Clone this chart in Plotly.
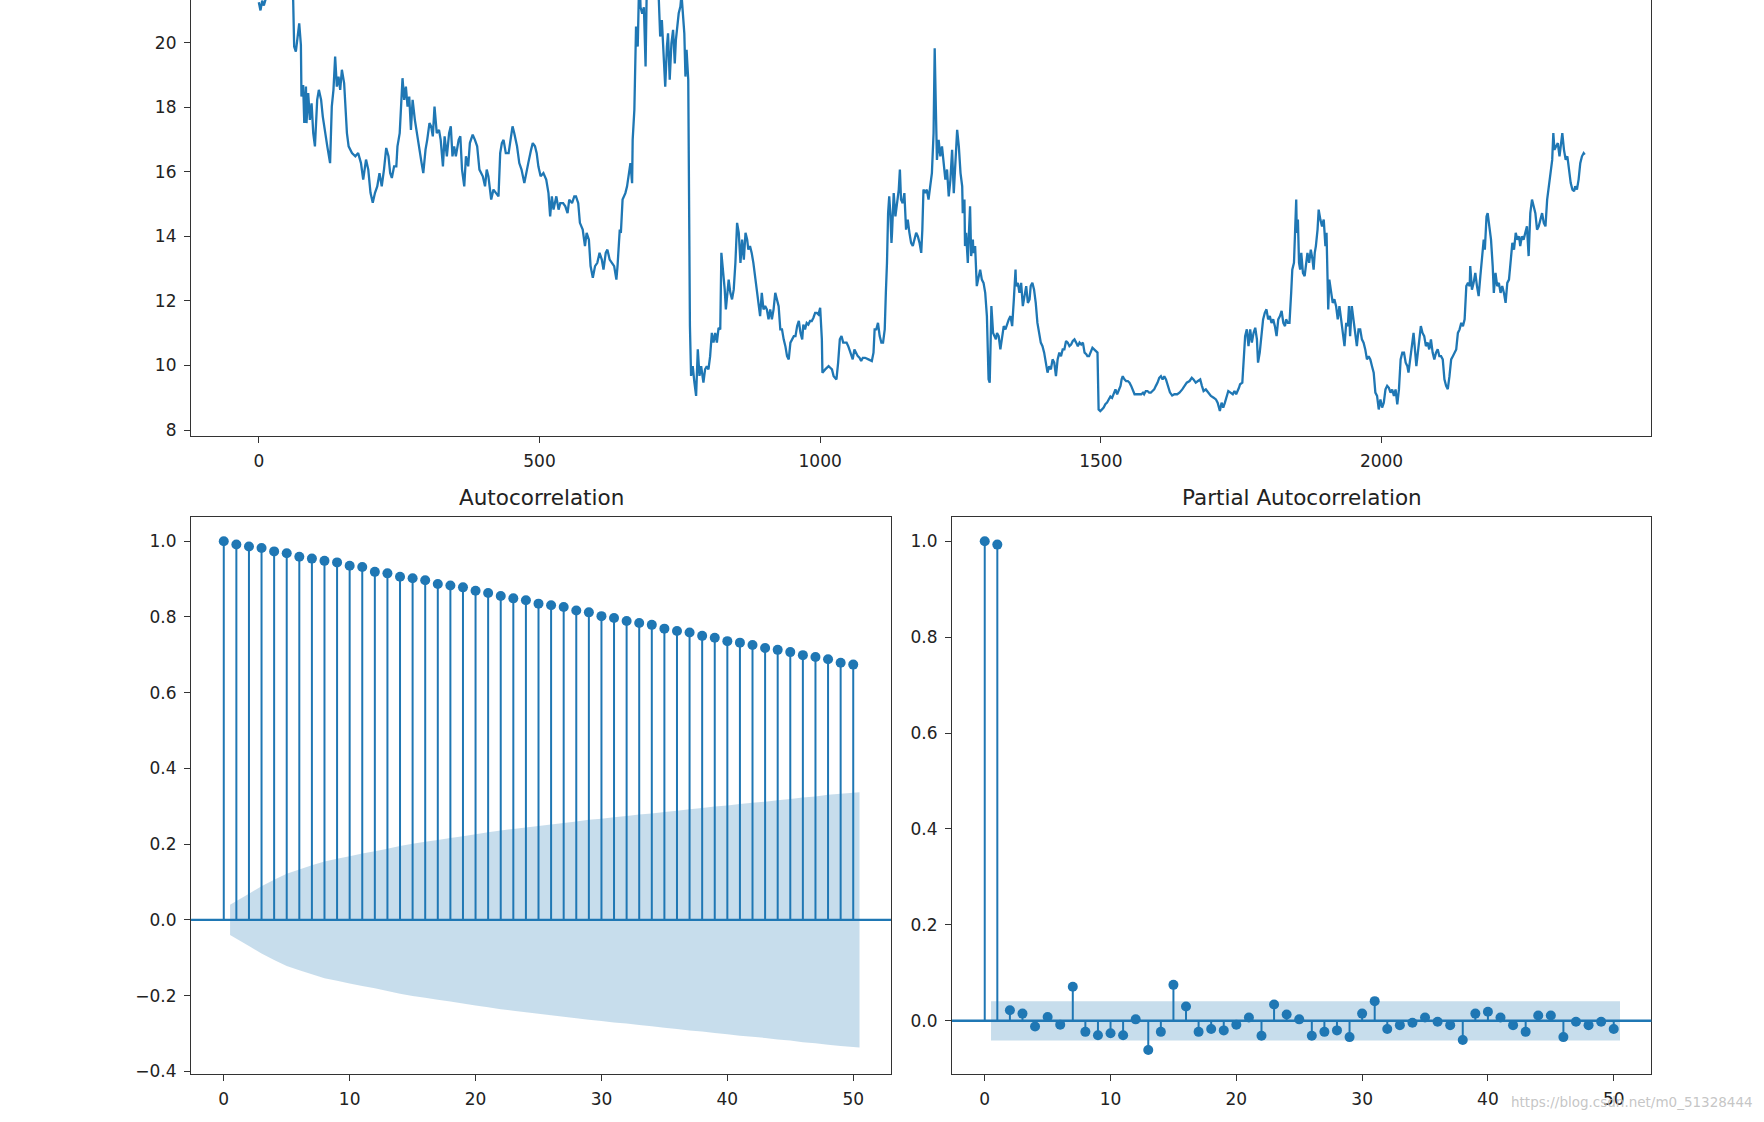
import plotly.graph_objects as go

# ---------------- data ----------------
series_x = [0, 3, 6, 9, 13, 20, 30, 40, 50, 58, 61, 63, 66, 69, 72, 75, 76, 79, 81, 84, 85, 88, 91, 94, 97, 100,
            104, 107, 111, 114, 118, 122, 127, 130, 133, 136, 139, 142, 145, 148, 152, 154, 157, 160, 166, 172, 177,
            182, 186, 191, 195, 199, 203, 207, 211, 215, 219, 223, 227, 231, 234, 237, 241, 245, 247, 251, 253, 256,
            259, 262, 265, 268, 271, 274, 278, 283, 287, 290, 293, 297, 300, 304, 307, 310, 313, 317, 321, 324, 328,
            331, 335, 339, 342, 345, 348, 351, 356, 359, 362, 366, 369, 373, 376, 381, 385, 389, 393,
            399, 403, 406, 409, 414, 418, 423, 427, 430, 433, 436, 440, 445, 448, 452, 455, 460, 464, 468, 473, 476,
            480, 485, 488, 492, 495, 498, 502, 507, 512, 516, 519, 522, 525, 530, 534, 537, 542, 546, 550, 553, 558,
            562, 565, 569, 572, 577, 581, 584, 588, 591, 595, 599, 603, 607, 611, 614, 618, 621, 625, 629, 633, 637,
            639, 643, 645, 648, 653, 656, 659, 662, 665, 666, 669, 670, 672, 675, 676, 678, 680, 683, 686, 689, 691,
            695, 700, 706, 712, 715, 718, 721, 724, 727, 729, 732, 735, 738, 741, 743, 746, 748, 751, 753, 755, 758,
            760, 762, 765, 767, 768, 770, 773, 776, 779, 782, 785, 788,
            792, 795, 798, 801, 804, 807, 810, 813, 816, 819, 822, 824, 826, 828, 830, 832, 835, 837, 840, 843, 846,
            849, 852, 855, 858, 861, 864, 867, 870, 872, 875, 878, 881, 884, 887, 890, 893, 896, 899, 902, 905, 908,
            911, 914, 917, 920, 923, 926, 929, 932, 935, 938, 941, 944, 947, 950, 953, 956, 959, 962, 965, 968, 970,
            973, 976, 979, 982, 985, 988, 991, 994, 997, 1000, 1003, 1004, 1009, 1012, 1015, 1018, 1021, 1024, 1029,
            1032, 1035, 1038, 1041, 1044, 1047, 1050, 1052, 1055, 1058, 1061, 1064, 1067, 1070, 1073, 1076, 1080,
            1086, 1092, 1095, 1097, 1100, 1103, 1106, 1109, 1112, 1115, 1117, 1119, 1121, 1123, 1125, 1127, 1128,
            1131, 1134, 1137, 1140, 1142, 1144, 1147, 1150, 1153, 1156, 1159, 1162, 1165, 1168, 1171, 1174, 1177,
            1180, 1182, 1184, 1187, 1190, 1193, 1196, 1199, 1202, 1204, 1206, 1208,
            1211, 1214, 1217, 1220, 1223, 1226, 1229, 1232, 1235, 1238, 1241, 1244, 1247, 1250, 1253, 1254, 1257,
            1258, 1260, 1263, 1265, 1267, 1269, 1272, 1273, 1276, 1279, 1282, 1285, 1288, 1291, 1294, 1297, 1300,
            1302, 1304, 1305, 1308, 1310, 1313, 1315, 1318, 1321, 1324, 1327, 1330, 1333, 1336, 1339, 1342, 1345,
            1348, 1349, 1352, 1355, 1358, 1361, 1364, 1367, 1370, 1373, 1375, 1378, 1381, 1384, 1387, 1390, 1393,
            1396, 1399, 1402, 1405, 1408, 1411, 1414, 1417, 1420, 1423, 1426, 1429, 1432, 1435, 1438, 1441, 1444,
            1447, 1450, 1453, 1456, 1459, 1462, 1465, 1468, 1471, 1474, 1476, 1479, 1482, 1485, 1488, 1491, 1494,
            1496, 1499, 1502, 1505, 1508, 1511, 1514, 1517, 1520, 1523, 1526, 1529, 1532, 1535, 1537, 1539, 1542,
            1545, 1548, 1551, 1554, 1557, 1560, 1563, 1566, 1569, 1572, 1575, 1577, 1580, 1583, 1586, 1589, 1592,
            1595, 1598, 1601, 1604, 1607, 1610, 1613, 1616, 1619,
            1623, 1627, 1631, 1636, 1640, 1645, 1649, 1653, 1658, 1662, 1665, 1669, 1673, 1677, 1680, 1683, 1687,
            1692, 1696, 1701, 1705, 1708, 1712, 1715, 1718, 1721, 1724, 1727, 1731, 1735, 1738, 1741, 1746, 1748,
            1752, 1754, 1757, 1760, 1763, 1766, 1769, 1772, 1775, 1778, 1780, 1783, 1786, 1789, 1792, 1795, 1798,
            1801, 1804, 1807, 1810, 1813, 1816, 1819, 1822, 1825, 1828, 1830, 1833, 1836, 1839, 1841, 1844, 1846,
            1848, 1849, 1851, 1853, 1855, 1857, 1860, 1863, 1866, 1868, 1871, 1874, 1877, 1879, 1881, 1883, 1886,
            1888, 1891, 1894, 1897, 1900, 1902, 1905, 1907, 1910, 1913, 1916, 1919, 1922, 1925, 1928, 1931, 1934,
            1937, 1940, 1942, 1944, 1947, 1950, 1953, 1956, 1959, 1962, 1965, 1968, 1971, 1974, 1977, 1980, 1983,
            1986, 1989, 1992, 1995, 1998, 2001, 2004, 2007, 2010, 2013, 2016, 2019, 2022, 2025, 2028, 2031,
            2034, 2037, 2040, 2043, 2046, 2048, 2051, 2054, 2057, 2059, 2062, 2064, 2067, 2070, 2073, 2076, 2079,
            2082, 2085, 2088, 2091, 2094, 2097, 2100, 2103, 2106, 2109, 2112, 2115, 2118, 2121, 2124, 2127, 2130,
            2133, 2136, 2139, 2142, 2145, 2148, 2151, 2154, 2157, 2158, 2161, 2164, 2167, 2170, 2173, 2176, 2179,
            2182, 2184, 2187, 2189, 2192, 2195, 2198, 2200, 2203, 2206, 2209, 2212, 2215, 2218, 2221, 2224, 2227,
            2230, 2233, 2236, 2239, 2242, 2245, 2247, 2250, 2253, 2256, 2259, 2262, 2265, 2268, 2271, 2274, 2277,
            2280, 2283, 2286, 2289, 2292, 2295, 2298, 2301, 2304, 2306, 2308, 2311, 2314, 2317, 2320, 2322, 2325,
            2328, 2331, 2334, 2337, 2340, 2343, 2345, 2348, 2351, 2354, 2357, 2360, 2362]

series_y = [21.25, 21.0, 21.3, 21.15, 21.4, 21.9, 22.4, 22.1, 22.6, 22.2, 21.5, 19.88, 19.72, 20.19, 20.6, 19.93,
            18.33, 18.69, 17.51, 18.64, 17.51, 18.44, 17.61, 18.12, 17.2, 16.79,
            18.23, 18.54, 18.23, 17.71, 17.2, 16.79, 16.27, 18.02, 18.54, 19.57, 18.64, 18.95, 18.54, 19.16, 18.75,
            18.23, 17.2, 16.79, 16.58, 16.48, 16.58,
            16.27, 15.76, 16.38, 16.07, 15.35, 15.04, 15.35, 15.55, 15.96, 15.55, 16.07, 16.74, 16.48, 15.96, 15.81,
            16.17, 16.17, 16.79, 17.2, 17.92, 18.9,
            18.23, 18.64, 18.02, 18.33, 17.3, 18.23, 17.61, 16.99, 16.48, 16.27, 15.96, 16.69, 16.99, 17.51, 17.41,
            17.1, 18.02, 17.2, 17.3, 16.99, 16.17,
            17.1, 16.48, 17.2, 17.41, 16.48, 16.79, 16.48, 16.99, 17.1, 16.07, 15.55, 16.48, 16.17, 16.89, 17.15,
            16.99, 16.79, 16.07,
            15.86, 15.55, 16.07, 15.86, 15.14, 15.45, 15.34, 15.24, 16.58, 16.89, 16.99, 16.58, 16.58, 16.99, 17.41,
            17.2, 16.79, 16.27, 16.07, 15.65, 15.96,
            16.27, 16.68, 16.89, 16.79, 16.58, 16.17, 15.86, 15.96, 15.76, 15.34, 14.62, 15.24, 14.83, 15.24, 14.83,
            15.03, 15.03, 14.93, 14.72, 15.14, 15.03,
            15.24, 15.24, 15.03, 14.42, 14.21, 13.7, 14.11, 13.9, 13.08, 12.72, 13.08, 13.18, 13.49, 13.28, 12.97,
            13.49, 13.59, 13.28, 13.18, 13.08, 12.66,
            13.08, 14.21, 14.11, 15.14, 15.34, 15.55, 15.96, 16.27, 15.65, 16.99, 17.92, 19.47, 20.5, 19.88, 21.6,
            22.3, 21.1, 20.9, 21.1, 19.26, 21.6,
            22.5, 22.9, 22.4, 21.6, 20.19, 20.7, 19.47, 18.64, 19.88, 20.29, 18.85, 19.98, 20.4, 19.36, 20.09, 20.5,
            20.91, 21.12, 21.5, 21.01, 20.29,
            18.95, 19.78, 18.85, 14.1, 11.22, 9.68, 9.98, 9.47, 9.06, 10.5, 9.68, 9.98,
            9.47, 9.88, 9.98, 9.88, 10.29, 11.01, 10.71, 11.01, 10.71, 11.17, 11.12, 13.49, 13.08, 12.87, 12.35,
            11.74, 12.25, 12.66, 12.25, 12.05, 12.35,
            13.18, 14.42, 14.11, 13.18, 13.9, 13.28, 14.11, 13.9, 13.59, 13.7, 13.49, 13.18, 12.77, 12.35, 11.84,
            11.53, 12.25, 11.74, 11.84, 11.74, 11.43,
            11.74, 11.43, 11.74, 12.25, 12.05, 11.84, 11.12, 11.12, 10.81, 10.6, 10.29, 10.19, 10.71, 10.81, 10.91,
            10.91, 11.22, 11.38, 11.01, 10.81, 11.27,
            11.12, 11.32, 11.27, 11.38, 11.38, 11.48, 11.63, 11.63, 11.58, 11.79, 10.81, 9.78, 9.88, 9.93, 9.98,
            9.93, 9.88, 9.67, 9.57,
            10.09, 10.81, 10.91, 10.71, 10.71, 10.71, 10.6, 10.5, 10.29, 10.19, 10.5, 10.4, 10.29, 10.24, 10.14,
            10.24, 10.24,
            10.19, 10.14, 10.4, 11.12, 11.12, 11.32, 10.91, 10.71, 10.71, 11.12, 12.25, 13.18, 14.72, 15.24, 14.72,
            13.8, 14.11,
            15.34, 14.62, 15.03, 15.45, 16.07, 15.14, 15.03, 15.34, 14.21, 14.52, 14.11, 13.8, 13.7, 13.9, 14.11,
            14.0, 13.8,
            13.49, 14.21, 15.45, 15.34, 15.45, 15.14, 15.55, 15.96, 17.2, 19.83, 18.02, 16.37,
            16.99, 16.48, 16.79, 16.17, 15.76, 16.07, 15.24, 15.76, 16.68, 15.34, 16.17, 17.3, 16.79, 15.96, 15.55,
            14.72, 15.14,
            13.7, 14.11, 13.18, 14.11, 14.93, 13.39, 13.9, 13.49, 13.7, 12.46, 12.77, 12.97, 12.66, 12.56, 12.25,
            11.53, 9.57,
            9.47, 11.01, 11.84, 11.01, 10.91, 10.81, 11.01, 10.91, 10.5, 10.81, 11.22, 11.12, 11.32, 11.43, 11.53,
            11.22, 12.05,
            12.97, 12.46, 12.56, 12.25, 12.56, 11.84, 12.15, 12.46, 11.94, 12.05, 12.46, 12.56, 12.35, 11.94, 11.32,
            11.01, 10.71,
            10.6, 10.4, 10.09, 9.78, 9.98, 9.88, 10.19, 10.09, 9.67, 10.19, 10.4, 10.29, 10.5, 10.5, 10.76, 10.71,
            10.6,
            10.65, 10.76, 10.81, 10.71, 10.6, 10.71, 10.65, 10.71, 10.4, 10.35, 10.29, 10.29, 10.45, 10.55, 10.5,
            10.45, 10.4,
            8.64, 8.59, 8.64, 8.7, 8.8, 8.85, 8.95, 9.04, 9.0, 9.11, 9.26, 9.11, 9.26, 9.37, 9.57, 9.67, 9.57,
            9.52, 9.52, 9.47, 9.37, 9.21, 9.11, 9.11, 9.11, 9.11, 9.11, 9.16, 9.11, 9.21, 9.21, 9.16, 9.16, 9.21,
            9.26, 9.37, 9.47, 9.62, 9.67, 9.57, 9.67, 9.57, 9.37,
            9.17, 9.07, 9.11, 9.11, 9.16, 9.26, 9.37, 9.47, 9.52, 9.62, 9.57, 9.47, 9.52, 9.57, 9.37, 9.21, 9.26,
            9.16, 9.06, 9.0, 8.95, 8.85, 8.59, 8.85, 8.7, 8.85, 9.06, 9.21, 9.16, 9.11, 9.21, 9.11, 9.31, 9.42,
            9.47, 10.19, 10.91, 11.12, 10.6, 11.12, 10.71, 11.01, 11.17, 10.81, 10.09, 10.4, 11.01, 11.43, 11.63,
            11.74, 11.43,
            11.53, 11.32, 11.43, 11.22, 10.91, 11.43, 11.53, 11.69, 11.32, 11.22, 11.43, 11.32, 11.32, 12.25, 12.97,
            13.18, 14.11,
            15.14, 14.11, 14.52, 13.18, 12.97, 13.49, 12.87, 12.77, 13.28, 13.49, 13.18, 13.59, 13.28, 12.97, 13.49,
            13.7, 14.21,
            14.83, 14.52, 14.31, 14.52, 13.7, 14.11, 11.74, 12.66, 12.25, 11.94, 12.05, 11.84, 11.43, 11.84, 11.43,
            11.01, 10.6,
            11.32, 11.22, 11.84, 10.91, 11.84, 11.43, 11.01, 10.6, 11.12, 11.12, 10.81, 10.71, 10.5, 10.19, 10.29,
            10.19, 9.98,
            9.78, 9.16, 9.06, 8.64, 8.95, 8.7, 8.85, 9.26, 9.37, 9.31, 9.16, 9.26, 9.06, 9.26, 8.8, 9.26,
            10.19, 10.4, 10.4, 10.09, 9.98, 9.78, 10.19, 10.71, 11.01, 10.6, 9.98, 10.29, 10.71, 11.22, 11.01, 10.91,
            10.6,
            10.71, 10.5, 10.81, 10.4, 10.19, 10.4, 10.5, 10.29, 10.29, 10.19, 9.57, 9.37, 9.27, 9.67, 10.19, 10.29,
            10.4,
            10.5, 11.01, 11.12, 11.32, 11.22, 11.43, 12.46, 12.56, 12.46, 13.08, 12.35, 12.56, 12.87, 12.46, 12.15,
            12.77, 13.49,
            13.9, 13.59, 14.62, 14.72, 14.21, 13.9, 13.08, 12.25, 12.87, 12.46, 12.56, 12.25, 12.46, 12.25, 11.94,
            12.56, 12.66,
            13.39, 13.8, 13.59, 14.11, 13.9, 14.0, 13.7, 14.0, 13.9, 14.11, 14.31, 13.39, 14.72, 15.14, 14.93, 14.72,
            14.21,
            14.31, 14.52, 14.72, 14.42, 14.31, 15.14, 15.55, 15.96, 16.37, 17.2, 16.68, 16.79, 16.89, 16.48, 16.99,
            17.2, 16.68,
            16.37, 16.48, 15.96, 15.65, 15.45, 15.4, 15.55, 15.45, 15.76, 16.27, 16.48, 16.58, 16.53]

lags = list(range(51))
acf_vals = [1.000, 0.991, 0.986, 0.982, 0.973, 0.968, 0.959, 0.954, 0.948, 0.944, 0.935, 0.932, 0.919, 0.915,
            0.906, 0.902, 0.897, 0.887, 0.883, 0.878, 0.869, 0.863, 0.855, 0.849, 0.844, 0.835, 0.831, 0.826,
            0.817, 0.812, 0.802, 0.797, 0.789, 0.784, 0.779, 0.769, 0.763, 0.759, 0.750, 0.745, 0.736, 0.732,
            0.726, 0.718, 0.713, 0.707, 0.699, 0.694, 0.688, 0.679, 0.674]
# confidence half-width for lags 1..50
acf_conf = [0.040, 0.069, 0.089, 0.106, 0.122, 0.133, 0.144, 0.154, 0.161, 0.168, 0.175, 0.181, 0.188, 0.195,
            0.201, 0.206, 0.211, 0.216, 0.221, 0.226, 0.231, 0.236, 0.240, 0.244, 0.248, 0.252, 0.256, 0.260,
            0.264, 0.267, 0.271, 0.274, 0.278, 0.281, 0.285, 0.288, 0.292, 0.295, 0.299, 0.302, 0.306, 0.309,
            0.312, 0.316, 0.319, 0.323, 0.326, 0.330, 0.333, 0.337]
pacf_vals = [1.000, 0.993, 0.022, 0.015, -0.012, 0.008, -0.008, 0.071, -0.023, -0.030, -0.026, -0.030, 0.003,
             -0.061, -0.023, 0.075, 0.030, -0.023, -0.017, -0.020, -0.008, 0.007, -0.031, 0.034, 0.013, 0.003,
             -0.031, -0.023, -0.020, -0.034, 0.015, 0.041, -0.017, -0.009, -0.004, 0.007, -0.002, -0.009, -0.040,
             0.015, 0.019, 0.007, -0.009, -0.023, 0.011, 0.011, -0.034, -0.002, -0.009, -0.002, -0.017]
pacf_conf = 0.041

top_xticks = [0, 500, 1000, 1500, 2000]
top_yticks = [8, 10, 12, 14, 16, 18, 20]
lag_ticks = [0, 10, 20, 30, 40, 50]
acf_yticks = [-0.4, -0.2, 0.0, 0.2, 0.4, 0.6, 0.8, 1.0]
pacf_yticks = [0.0, 0.2, 0.4, 0.6, 0.8, 1.0]

acf_title = "Autocorrelation"
pacf_title = "Partial Autocorrelation"
watermark = "https://blog.csdn.net/m0_51328444"

# ---------------- styling ----------------
C0 = "#1f77b4"
BAND = "rgba(31,119,180,0.25)"
FONT = "DejaVu Sans"
TICKFONT = dict(family=FONT, size=17, color="#222222")


def fmt(v):
    s = f"{v:.1f}"
    return s.replace("-", "\u2212")


def stems(vals):
    xs, ys = [], []
    for l, v in zip(lags, vals):
        xs += [l, l, None]
        ys += [0, v, None]
    return xs, ys


def band_polygon(half):
    bx = [float(l) for l in lags[1:]]
    bx[0] -= 0.5
    bx[-1] += 0.5
    if not isinstance(half, list):
        half = [half] * len(bx)
    xs = bx + bx[::-1]
    ys = [h for h in half] + [-h for h in half[::-1]]
    return xs, ys


fig = go.Figure()

# top: series
fig.add_trace(go.Scatter(x=series_x, y=series_y, mode="lines",
                         line=dict(color=C0, width=2.3), xaxis="x", yaxis="y",
                         hoverinfo="skip"))

# ACF
sx, sy = stems(acf_vals)
fig.add_trace(go.Scatter(x=sx, y=sy, mode="lines", line=dict(color=C0, width=2),
                         xaxis="x2", yaxis="y2", hoverinfo="skip"))
fig.add_trace(go.Scatter(x=lags, y=acf_vals, mode="markers",
                         marker=dict(color=C0, size=10), xaxis="x2", yaxis="y2"))
bx, by = band_polygon(acf_conf)
fig.add_trace(go.Scatter(x=bx, y=by, mode="none", fill="toself", fillcolor=BAND,
                         xaxis="x2", yaxis="y2", hoverinfo="skip"))

# PACF
sx, sy = stems(pacf_vals)
fig.add_trace(go.Scatter(x=sx, y=sy, mode="lines", line=dict(color=C0, width=2),
                         xaxis="x3", yaxis="y3", hoverinfo="skip"))
fig.add_trace(go.Scatter(x=lags, y=pacf_vals, mode="markers",
                         marker=dict(color=C0, size=10), xaxis="x3", yaxis="y3"))
bx, by = band_polygon(pacf_conf)
fig.add_trace(go.Scatter(x=bx, y=by, mode="none", fill="toself", fillcolor=BAND,
                         xaxis="x3", yaxis="y3", hoverinfo="skip"))

# zero lines
for ax in ("2", "3"):
    fig.add_shape(type="line", xref=f"x{ax} domain", yref=f"y{ax}", x0=0, x1=1, y0=0, y1=0,
                  line=dict(color=C0, width=2.4))

axis_common = dict(showline=True, linecolor="#333333", linewidth=1.3, ticks="outside",
                   ticklen=6, tickwidth=1.3, tickcolor="#333333", showgrid=False,
                   zeroline=False, tickfont=TICKFONT, ticklabelstandoff=4)

XL, XR = 0.1083, 0.9362
XM1, XM2 = 0.5051, 0.5397
YB, YT = 0.0363, 0.5363
YTOP_B = 0.6089

fig.update_layout(
    width=1764, height=1122,
    margin=dict(l=0, r=0, t=0, b=0),
    paper_bgcolor="white", plot_bgcolor="white",
    showlegend=False,
    xaxis=dict(domain=[XL, XR], anchor="y", range=[-120.7, 2480.8],
               tickvals=top_xticks, ticktext=[str(v) for v in top_xticks], mirror=False, **axis_common),
    yaxis=dict(domain=[YTOP_B, 1.0], anchor="x", range=[7.827, 21.322],
               tickvals=top_yticks, ticktext=[str(v) for v in top_yticks], mirror=True, **axis_common),
    xaxis2=dict(domain=[XL, XM1], anchor="y2", range=[-2.6, 53.0],
                tickvals=lag_ticks, ticktext=[str(v) for v in lag_ticks], mirror=True, **axis_common),
    yaxis2=dict(domain=[YB, YT], anchor="x2", range=[-0.406, 1.065],
                tickvals=acf_yticks, ticktext=[fmt(v) for v in acf_yticks], mirror=True, **axis_common),
    xaxis3=dict(domain=[XM2, XR], anchor="y3", range=[-2.6, 53.0],
                tickvals=lag_ticks, ticktext=[str(v) for v in lag_ticks], mirror=True, **axis_common),
    yaxis3=dict(domain=[YB, YT], anchor="x3", range=[-0.110, 1.0515],
                tickvals=pacf_yticks, ticktext=[fmt(v) for v in pacf_yticks], mirror=True, **axis_common),
)

fig.add_annotation(text=acf_title, x=(XL + XM1) / 2, y=0.5535, xref="paper", yref="paper",
                   showarrow=False, xanchor="center", yanchor="middle",
                   font=dict(family=FONT, size=21.5, color="#222222"))
fig.add_annotation(text=pacf_title, x=(XM2 + XR) / 2, y=0.5535, xref="paper", yref="paper",
                   showarrow=False, xanchor="center", yanchor="middle",
                   font=dict(family=FONT, size=21.5, color="#222222"))
fig.add_annotation(text=watermark, x=0.995, y=0.011, xref="paper", yref="paper",
                   showarrow=False, xanchor="right", yanchor="middle",
                   font=dict(family=FONT, size=13.5, color="rgba(190,190,190,0.9)"))

fig.write_html("out.html")
